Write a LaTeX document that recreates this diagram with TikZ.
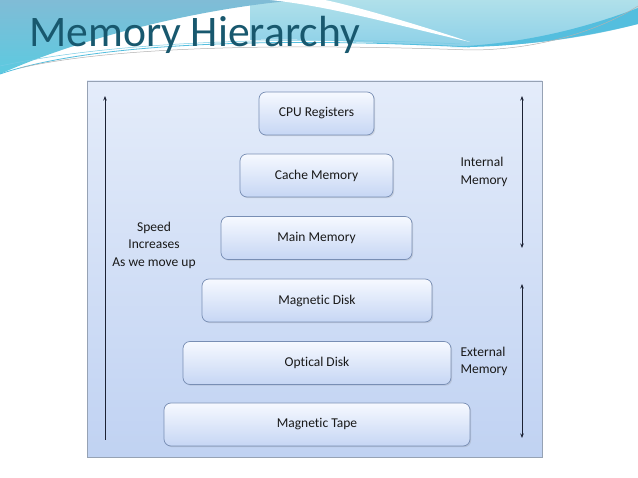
\documentclass[tikz,border=0pt]{standalone}
\usepackage{fontspec}
\setmainfont[Ligatures=NoCommon]{Carlito}
\usetikzlibrary{arrows.meta,shadows}
\definecolor{titlecol}{RGB}{24,88,110}
\definecolor{panelborder}{RGB}{150,162,180}
\definecolor{paneltop}{RGB}{228,236,250}
\definecolor{panelbot}{RGB}{192,210,242}
\definecolor{boxtop}{RGB}{246,249,255}
\definecolor{boxbot}{RGB}{198,214,244}
\definecolor{boxborder}{RGB}{120,142,180}
\definecolor{txt}{RGB}{25,25,25}
\definecolor{arrcol}{RGB}{28,34,52}
\definecolor{tealA}{RGB}{128,188,214}
\definecolor{tealB}{RGB}{92,202,224}
\definecolor{cyanA}{RGB}{176,224,234}
\definecolor{cyanB}{RGB}{140,208,232}
\definecolor{cyanC}{RGB}{84,190,222}
\tikzset{
  membox/.style={draw=boxborder, line width=0.7pt, rounded corners=7pt,
    top color=boxtop, bottom color=boxbot, minimum height=43pt,
    font=\fontsize{13.5}{15}\selectfont, text=txt,
    drop shadow={opacity=0.22, shadow xshift=1.2pt, shadow yshift=-1.2pt}},
  sidetext/.style={font=\fontsize{13.5}{17.5}\selectfont, text=txt},
  arr/.style={draw=arrcol, line width=0.8pt, -{Stealth[length=4.5pt,width=3.5pt]}},
  darr/.style={draw=arrcol, line width=0.8pt, {Stealth[length=4.5pt,width=3.5pt]}-{Stealth[length=4.5pt,width=3.5pt]}}
}
\begin{document}
\begin{tikzpicture}[x=1pt,y=-1pt]
\useasboundingbox (0,0) rectangle (638,478);
\fill[white] (0,0) rectangle (638,478);
% header waves
\shade[top color=cyanA, bottom color=cyanB] (250,0) -- (638,0) -- (638,24)
  .. controls (570,42) and (500,48) .. (440,46)
  .. controls (380,44) and (320,38) .. (250,40) -- cycle;
\fill[cyanC] (638,8) .. controls (580,30) and (520,44) .. (450,47)
  .. controls (520,48) and (590,36) .. (638,24) -- cycle;
\shade[top color=tealA, bottom color=tealB] (0,0) -- (300,0)
  .. controls (200,8) and (80,38) .. (0,74) -- cycle;
\fill[white] (270,0) .. controls (330,6) and (400,26) .. (470,42)
  .. controls (410,22) and (350,5) .. (325,0) -- cycle;
\draw[cyanC, line width=0.8pt] (0,74) .. controls (100,40) and (300,38) .. (470,47);
\draw[gray!60, line width=0.5pt] (20,68) .. controls (120,45) and (300,44) .. (470,50)
  .. controls (540,50) and (600,30) .. (638,6);
\draw[cyanC!80, line width=0.5pt] (0,66) .. controls (120,40) and (300,36) .. (460,44);
% title
\node[anchor=base west, text=titlecol, font=\fontsize{43.6}{48}\selectfont, inner sep=0pt] (title) at (29,47) {Memory Hierarchy};
% panel
\shade[top color=paneltop, bottom color=panelbot, draw=panelborder, line width=0.8pt] (87,81) rectangle (542,457);
% boxes
\node[membox, minimum width=115pt] (cpu) at (316.5,113.5) {CPU Registers};
\node[membox, minimum width=153pt] (cache) at (316.5,175.5) {Cache Memory};
\node[membox, minimum width=191pt] (main) at (316.5,238) {Main Memory};
\node[membox, minimum width=230pt] (mdisk) at (317,300.5) {Magnetic Disk};
\node[membox, minimum width=268pt] (odisk) at (317,363) {Optical Disk};
\node[membox, minimum width=306pt] (tape) at (317,424.5) {Magnetic Tape};
% speed arrow
\coordinate (sb) at (105,440);
\coordinate (st) at (105,96);
\draw[arr] (sb) -- (st);
\node[sidetext, align=center] (speed) at (154,245) {Speed\\ Increases\\As we move up};
% internal / external
\coordinate (it) at (522,96);
\coordinate (ib) at (522,248);
\draw[darr] (it) -- (ib);
\coordinate (et) at (522,284);
\coordinate (eb) at (522,438);
\draw[darr] (et) -- (eb);
\node[sidetext, align=left, anchor=west] (internal) at (457,172) {Internal\\Memory};
\node[sidetext, align=left, anchor=west] (external) at (457,361.5) {External\\Memory};
\end{tikzpicture}
\end{document}
